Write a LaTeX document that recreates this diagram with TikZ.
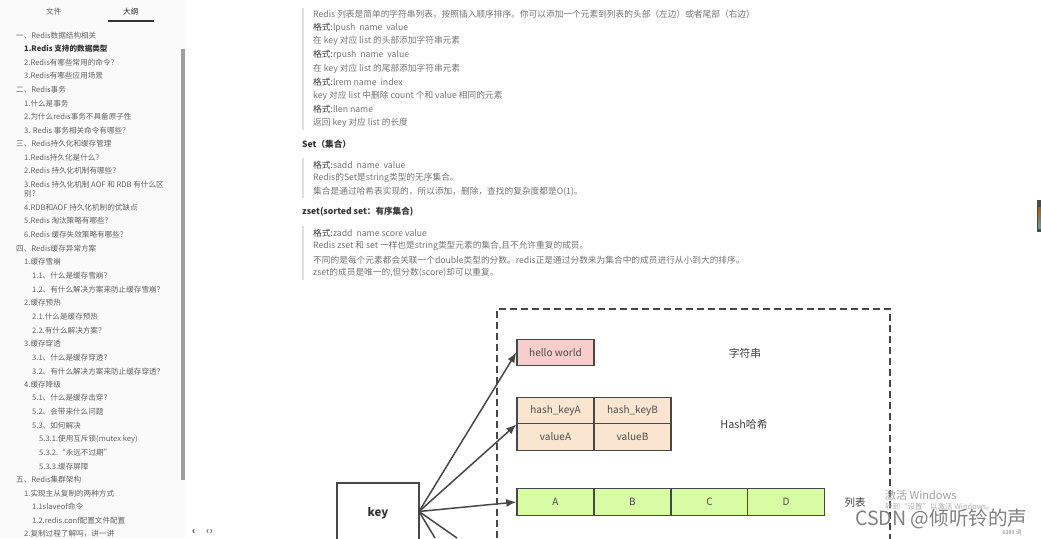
\documentclass[tikz,border=0pt]{standalone}
\usepackage{fontspec}
\setmainfont{Noto Sans CJK SC}
\usetikzlibrary{arrows.meta}
\colorlet{side area}{black!2}
\colorlet{side text}{black!62}
\colorlet{body text}{black!55}
\colorlet{box edge}{black!72}
\definecolor{string area}{HTML}{F8CECC}
\definecolor{hash area}{HTML}{FAE6D0}
\definecolor{list area}{HTML}{D7FCA3}
\def\fmtlabel{\textcolor{black!78}{格式:}}
\tikzset{outline/.style={anchor=west,inner sep=0pt,font=\fontsize{7.6}{9}\selectfont,text=side text},
    body/.style={anchor=west,inner sep=0pt,font=\fontsize{8.7}{10}\selectfont,text=body text},
    heading/.style={anchor=west,inner sep=0pt,font=\fontsize{8.6}{10}\selectfont\bfseries,text=black!80},
    cell/.style={draw=box edge,line width=1.4pt,minimum width=77pt,minimum height=26.5pt,inner sep=0pt,
        font=\fontsize{10}{12}\selectfont,text=black!70},
    tag/.style={inner sep=0pt,font=\fontsize{10.8}{12}\selectfont,text=black!75},
    link/.style={draw=black!72,line width=1.5pt,-{Latex[length=10pt,width=8pt]}},
    quote bar/.style={fill=black!12,draw=none}}
\begin{document}
\begin{tikzpicture}[x=1pt,y=-1pt]
    \useasboundingbox (0,0) rectangle (1041,538);
    \clip (0,0) rectangle (1041,538);
    % side panel
    \fill[side area] (0,0) rectangle (185,538);
    \fill[black!38] (181,49) rectangle (185,480);
    \node[outline] (tabfile) at (46,12) {文件};
    \node[outline,text=black!85] (tabtoc) at (123,12) {大纲};
    \fill[black!80] (108,19.5) rectangle (154,21.5);
    \foreach \nx/\ny/\ntext in {16/36/{一、Redis数据结构相关},24/63/{2.Redis有哪些常用的命令？},24/76/{3.Redis有哪些应用场景},
        16/90/{二、Redis事务},24/104/{1.什么是事务},24/117/{2.为什么redis事务不具备原子性},24/131/{3. Redis 事务相关命令有哪些？},
        16/144/{三、Redis持久化和缓存管理},24/158/{1.Redis持久化是什么？},24/171/{2.Redis 持久化机制有哪些？},
        24/185/{3.Redis 持久化机制 AOF 和 RDB 有什么区},24/194/{别？},24/208/{4.RDB和AOF 持久化机制的优缺点},
        24/221/{5.Redis 淘汰策略有哪些？},24/235/{6.Redis 缓存失效策略有哪些？},16/249/{四、Redis缓存异常方案},24/262/{1.缓存雪崩},
        32/276/{1.1、什么是缓存雪崩？},32/290/{1.2、有什么解决方案来防止缓存雪崩？},24/303/{2.缓存预热},32/317/{2.1.什么是缓存预热},
        32/331/{2.2.有什么解决方案？},24/344/{3.缓存穿透},32/358/{3.1、什么是缓存穿透？},32/372/{3.2、有什么解决方案来防止缓存穿透？},
        24/385/{4.缓存降级},32/398/{5.1、什么是缓存击穿？},32/412/{5.2、会带来什么问题},32/426/{5.3、如何解决},
        39/439/{5.3.1.使用互斥锁(mutex key)},39/453/{5.3.2.“永远不过期”},39/467/{5.3.3.缓存屏障},16/480/{五、Redis集群架构},
        24/494/{1.实现主从复制的两种方式},32/507/{1.1slaveof命令},32/521/{1.2.redis.conf配置文件配置},24/534/{2.复制过程了解吗，讲一讲}}
        \node[outline] at (\nx,\ny) {\ntext};
    \node[outline,font=\fontsize{7.6}{9}\selectfont\bfseries,text=black!80] (tocactive) at (24,49) {1.Redis 支持的数据类型};
    \node[outline,font=\fontsize{10}{10}\selectfont\bfseries,text=black!70] (navleft) at (192,532) {‹};
    \node[outline,font=\fontsize{10}{10}\selectfont\bfseries,text=black!55] (navcode) at (206,532) {‹›};
    % notes
    \fill[quote bar] (302,8) rectangle (304,130);
    \fill[quote bar] (302,158) rectangle (304,198);
    \fill[quote bar] (302,226) rectangle (304,280);
    \foreach \ny/\ntext in {14/{Redis 列表是简单的字符串列表，按照插入顺序排序。你可以添加一个元素到列表的头部（左边）或者尾部（右边）},
        28/{\fmtlabel lpush\ \ name\ \ value},41/{在 key 对应 list 的头部添加字符串元素},55/{\fmtlabel rpush\ \ name\ \ value},
        69/{在 key 对应 list 的尾部添加字符串元素},82/{\fmtlabel lrem name\ \ index},96/{key 对应 list 中删除 count 个和 value 相同的元素},
        109/{\fmtlabel llen name},123/{返回 key 对应 list 的长度},165/{\fmtlabel sadd\ \ name\ \ value},178/{Redis的Set是string类型的无序集合。},
        192/{集合是通过哈希表实现的，所以添加，删除，查找的复杂度都是O(1)。},233/{\fmtlabel zadd\ \ name score value},
        246/{Redis zset 和 set 一样也是string类型元素的集合,且不允许重复的成员。},
        260/{不同的是每个元素都会关联一个double类型的分数。redis正是通过分数来为集合中的成员进行从小到大的排序。},
        273/{zset的成员是唯一的,但分数(score)却可以重复。}}
        \node[body] at (313,\ny) {\ntext};
    \node[heading] (setnote) at (302,144) {Set（集合）};
    \node[heading] (zsetnote) at (302,212) {zset(sorted set：有序集合)};
    % diagram
    \draw[box edge,line width=1.5pt,dash pattern=on 7pt off 4pt] (497,560) -- (497,309) -- (890,309) -- (890,560);
    \node[cell,fill=string area] (strcell) at (555.5,352.5) {hello world};
    \node[cell,fill=hash area] (hashA) at (555.5,410.5) {hash\_keyA};
    \node[cell,fill=hash area] (hashB) at (632.5,410.5) {hash\_keyB};
    \node[cell,fill=hash area] (valA) at (555.5,437) {valueA};
    \node[cell,fill=hash area] (valB) at (632.5,437) {valueB};
    \node[cell,fill=list area] (listA) at (555.5,502) {A};
    \node[cell,fill=list area] (listB) at (632.5,502) {B};
    \node[cell,fill=list area] (listC) at (709.5,502) {C};
    \node[cell,fill=list area] (listD) at (786,502) {D};
    \node[tag] (strtag) at (745,353) {字符串};
    \node[tag] (hashtag) at (744,424) {Hash哈希};
    \node[tag,font=\fontsize{10.5}{12}\selectfont] (listtag) at (855,503) {列表};
    \node[draw=box edge,line width=1.4pt,fill=white,minimum width=82pt,minimum height=110pt,inner sep=0pt] (keybox) at (378,538) {};
    \node[tag,font=\fontsize{11.5}{13}\selectfont\bfseries,text=black!80] (keytext) at (378,513.5) {key};
    \coordinate (keyport) at (419,511.5);
    \coordinate (cutA) at (435,538);
    \coordinate (cutB) at (457,538);
    \draw[link] (keyport) -- (strcell.west);
    \draw[link] (keyport) -- (hashA.south west);
    \draw[link] (keyport) -- (listA.west);
    \draw[draw=black!72,line width=1.5pt] (keyport) -- (cutA);
    \draw[draw=black!72,line width=1.5pt] (keyport) -- (cutB);
    % overlay
    \node[inner sep=0pt,anchor=west,font=\fontsize{11}{12}\selectfont,text=black!38] (wintitle) at (885,495) {激活 Windows};
    \node[inner sep=0pt,anchor=west,font=\fontsize{7.5}{9}\selectfont,text=black!32] (winhint) at (885,507) {转到“设置”以激活 Windows。};
    \node[inner sep=0pt,anchor=west,font=\fontsize{19.6}{22}\selectfont,text=black!50] (csdnmark) at (855,519) {CSDN @倾听铃的声};
    \node[inner sep=0pt,font=\fontsize{5.5}{7}\selectfont,text=black!50] (wordcount) at (1012,532) {6389 词};
    % edge swatch
    \fill[black!70] (1037,200) rectangle (1041,232);
    \shade[top color=orange!70!black,bottom color=teal!70] (1038,207) rectangle (1041,228);
\end{tikzpicture}
\end{document}
